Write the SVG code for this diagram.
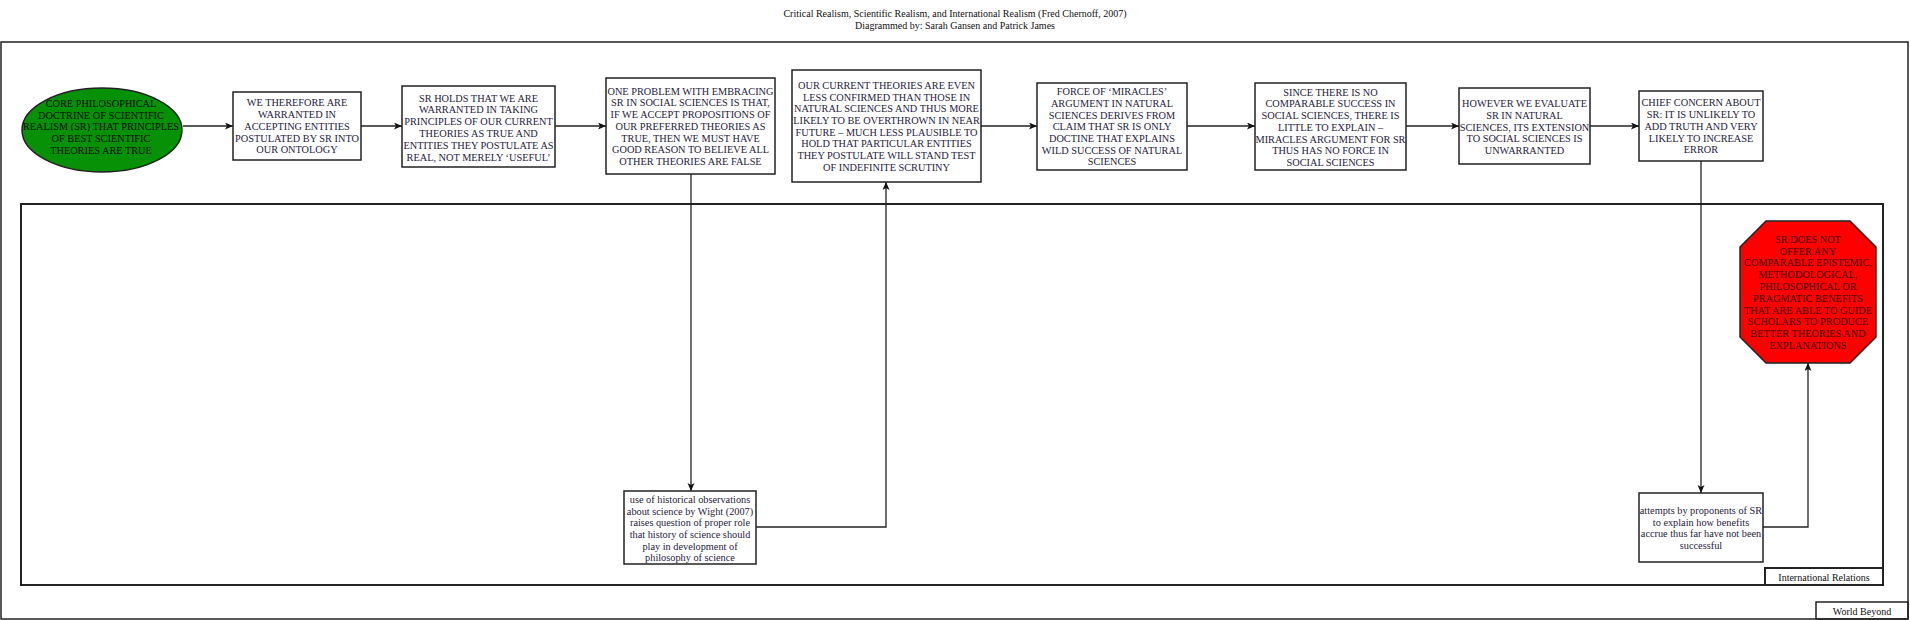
<svg xmlns="http://www.w3.org/2000/svg" width="1910" height="620" viewBox="0 0 1910 620">
<style>
  text { font-family: "Liberation Serif", "Times New Roman", serif; fill: #1f2240; text-anchor: middle; }
  .t { font-size: 10.3px; }
  .title { font-size: 10px; fill: #111; }
  .lbl { font-size: 10px; fill: #111; }
  .box { fill: #ffffff; stroke: #222; stroke-width: 1.5; }
  .frame { fill: none; stroke: #222; }
  .conn { fill: none; stroke: #222; stroke-width: 1.3; }
  .oct { font-size: 10.3px; fill: #3a0808; }
  .ell { font-size: 10.3px; fill: #0a0a0a; }
</style>
<defs>
  <marker id="arr" markerWidth="10" markerHeight="8" refX="8" refY="3.5" orient="auto" markerUnits="userSpaceOnUse">
    <path d="M0,0 L8,3.5 L0,7 L2,3.5 z" fill="#111"/>
  </marker>
</defs>
<rect width="1910" height="620" fill="#ffffff"/>
<g id="title">
  <text class="title" x="955" y="16.5">Critical Realism, Scientific Realism, and International Realism (Fred Chernoff, 2007)</text>
  <text class="title" x="955" y="28.5">Diagrammed by: Sarah Gansen and Patrick James</text>
</g>
<g id="world-beyond">
  <rect class="frame" x="1" y="42" width="1907" height="577" stroke-width="1.5"/>
  <rect class="frame" x="1816" y="602" width="92" height="17" stroke-width="1.5"/>
  <text class="lbl" x="1862" y="614.5">World Beyond</text>
</g>
<g id="international-relations">
  <rect class="frame" x="21" y="204" width="1862" height="381" stroke-width="2"/>
  <rect class="frame" x="1765" y="568" width="118" height="17" stroke-width="2"/>
  <text class="lbl" x="1824" y="580.5">International Relations</text>
</g>
<g id="connectors">
  <path class="conn" d="M183,126 L233,126" marker-end="url(#arr)"/>
  <path class="conn" d="M361,126 L402,126" marker-end="url(#arr)"/>
  <path class="conn" d="M555,126 L606,126" marker-end="url(#arr)"/>
  <path class="conn" d="M981,126 L1037,126" marker-end="url(#arr)"/>
  <path class="conn" d="M1187,126 L1255,126" marker-end="url(#arr)"/>
  <path class="conn" d="M1406,126 L1459,126" marker-end="url(#arr)"/>
  <path class="conn" d="M1590,126 L1639,126" marker-end="url(#arr)"/>
  <path class="conn" d="M691,174 L691,491" marker-end="url(#arr)"/>
  <path class="conn" d="M756,527 L886,527 L886,182" marker-end="url(#arr)"/>
  <path class="conn" d="M1701,161 L1701,493" marker-end="url(#arr)"/>
  <path class="conn" d="M1763,527 L1808,527 L1808,363" marker-end="url(#arr)"/>
</g>
<g id="n1">
  <ellipse cx="102" cy="130" rx="80" ry="42" fill="#079107" stroke="#222" stroke-width="1.5"/>
  <text class="ell" x="101" y="106.9"><tspan x="101">CORE PHILOSOPHICAL</tspan><tspan x="101" dy="11.7">DOCTRINE OF SCIENTIFIC</tspan><tspan x="101" dy="11.7">REALISM (SR) THAT PRINCIPLES</tspan><tspan x="101" dy="11.7">OF BEST SCIENTIFIC</tspan><tspan x="101" dy="11.7">THEORIES ARE TRUE</tspan></text>
</g>
<g id="n2">
  <rect class="box" x="233" y="92" width="128" height="68"/>
  <text class="t" x="297" y="106.4"><tspan x="297">WE THEREFORE ARE</tspan><tspan x="297" dy="11.7">WARRANTED IN</tspan><tspan x="297" dy="11.7">ACCEPTING ENTITIES</tspan><tspan x="297" dy="11.7">POSTULATED BY SR INTO</tspan><tspan x="297" dy="11.7">OUR ONTOLOGY</tspan></text>
</g>
<g id="n3">
  <rect class="box" x="402" y="86" width="153" height="81"/>
  <text class="t" x="478.5" y="101.5"><tspan x="478.5">SR HOLDS THAT WE ARE</tspan><tspan x="478.5" dy="11.8">WARRANTED IN TAKING</tspan><tspan x="478.5" dy="11.8">PRINCIPLES OF OUR CURRENT</tspan><tspan x="478.5" dy="11.8">THEORIES AS TRUE AND</tspan><tspan x="478.5" dy="11.8">ENTITIES THEY POSTULATE AS</tspan><tspan x="478.5" dy="11.8">REAL, NOT MERELY ‘USEFUL’</tspan></text>
</g>
<g id="n4">
  <rect class="box" x="606" y="78" width="169" height="96"/>
  <text class="t" x="690.5" y="94.7"><tspan x="690.5">ONE PROBLEM WITH EMBRACING</tspan><tspan x="690.5" dy="11.7">SR IN SOCIAL SCIENCES IS THAT,</tspan><tspan x="690.5" dy="11.7">IF WE ACCEPT PROPOSITIONS OF</tspan><tspan x="690.5" dy="11.7">OUR PREFERRED THEORIES AS</tspan><tspan x="690.5" dy="11.7">TRUE, THEN WE MUST HAVE</tspan><tspan x="690.5" dy="11.7">GOOD REASON TO BELIEVE ALL</tspan><tspan x="690.5" dy="11.7">OTHER THEORIES ARE FALSE</tspan></text>
</g>
<g id="n5">
  <rect class="box" x="792" y="70" width="189" height="112"/>
  <text class="t" x="886.5" y="88.85"><tspan x="886.5">OUR CURRENT THEORIES ARE EVEN</tspan><tspan x="886.5" dy="11.7">LESS CONFIRMED THAN THOSE IN</tspan><tspan x="886.5" dy="11.7">NATURAL SCIENCES AND THUS MORE</tspan><tspan x="886.5" dy="11.7">LIKELY TO BE OVERTHROWN IN NEAR</tspan><tspan x="886.5" dy="11.7">FUTURE – MUCH LESS PLAUSIBLE TO</tspan><tspan x="886.5" dy="11.7">HOLD THAT PARTICULAR ENTITIES</tspan><tspan x="886.5" dy="11.7">THEY POSTULATE WILL STAND TEST</tspan><tspan x="886.5" dy="11.7">OF INDEFINITE SCRUTINY</tspan></text>
</g>
<g id="n6">
  <rect class="box" x="1037" y="83" width="150" height="87"/>
  <text class="t" x="1112" y="95.2"><tspan x="1112">FORCE OF ‘MIRACLES’</tspan><tspan x="1112" dy="11.7">ARGUMENT IN NATURAL</tspan><tspan x="1112" dy="11.7">SCIENCES DERIVES FROM</tspan><tspan x="1112" dy="11.7">CLAIM THAT SR IS ONLY</tspan><tspan x="1112" dy="11.7">DOCTINE THAT EXPLAINS</tspan><tspan x="1112" dy="11.7">WILD SUCCESS OF NATURAL</tspan><tspan x="1112" dy="11.7">SCIENCES</tspan></text>
</g>
<g id="n7">
  <rect class="box" x="1255" y="83" width="151" height="87"/>
  <text class="t" x="1330.5" y="95.7"><tspan x="1330.5">SINCE THERE IS NO</tspan><tspan x="1330.5" dy="11.7">COMPARABLE SUCCESS IN</tspan><tspan x="1330.5" dy="11.7">SOCIAL SCIENCES, THERE IS</tspan><tspan x="1330.5" dy="11.7">LITTLE TO EXPLAIN –</tspan><tspan x="1330.5" dy="11.7">MIRACLES ARGUMENT FOR SR</tspan><tspan x="1330.5" dy="11.7">THUS HAS NO FORCE IN</tspan><tspan x="1330.5" dy="11.7">SOCIAL SCIENCES</tspan></text>
</g>
<g id="n8">
  <rect class="box" x="1459" y="88" width="131" height="76"/>
  <text class="t" x="1524.5" y="107.1"><tspan x="1524.5">HOWEVER WE EVALUATE</tspan><tspan x="1524.5" dy="11.7">SR IN NATURAL</tspan><tspan x="1524.5" dy="11.7">SCIENCES, ITS EXTENSION</tspan><tspan x="1524.5" dy="11.7">TO SOCIAL SCIENCES IS</tspan><tspan x="1524.5" dy="11.7">UNWARRANTED</tspan></text>
</g>
<g id="n9">
  <rect class="box" x="1639" y="91" width="124" height="70"/>
  <text class="t" x="1701" y="106.4"><tspan x="1701">CHIEF CONCERN ABOUT</tspan><tspan x="1701" dy="11.7">SR: IT IS UNLIKELY TO</tspan><tspan x="1701" dy="11.7">ADD TRUTH AND VERY</tspan><tspan x="1701" dy="11.7">LIKELY TO INCREASE</tspan><tspan x="1701" dy="11.7">ERROR</tspan></text>
</g>
<g id="n10">
  <rect class="box" x="624" y="491" width="132" height="73"/>
  <text class="t" x="690" y="502.85"><tspan x="690">use of historical observations</tspan><tspan x="690" dy="11.7">about science by Wight (2007)</tspan><tspan x="690" dy="11.7">raises question of proper role</tspan><tspan x="690" dy="11.7">that history of science should</tspan><tspan x="690" dy="11.7">play in development of</tspan><tspan x="690" dy="11.7">philosophy of science</tspan></text>
</g>
<g id="n11">
  <rect class="box" x="1639" y="493" width="124" height="69"/>
  <text class="t" x="1701" y="513.95"><tspan x="1701">attempts by proponents of SR</tspan><tspan x="1701" dy="11.7">to explain how benefits</tspan><tspan x="1701" dy="11.7">accrue thus far have not been</tspan><tspan x="1701" dy="11.7">successful</tspan></text>
</g>
<g id="n12">
  <polygon points="1766,221 1850,221 1876,247 1876,337 1850,363 1766,363 1740,337 1740,247" fill="#ff0000" stroke="#222" stroke-width="1.5"/>
  <text class="oct" x="1808" y="242.7"><tspan x="1808">SR DOES NOT</tspan><tspan x="1808" dy="11.8">OFFER ANY</tspan><tspan x="1808" dy="11.8">COMPARABLE EPISTEMIC,</tspan><tspan x="1808" dy="11.8">METHODOLOGICAL,</tspan><tspan x="1808" dy="11.8">PHILOSOPHICAL OR</tspan><tspan x="1808" dy="11.8">PRAGMATIC BENEFITS</tspan><tspan x="1808" dy="11.8">THAT ARE ABLE TO GUIDE</tspan><tspan x="1808" dy="11.8">SCHOLARS TO PRODUCE</tspan><tspan x="1808" dy="11.8">BETTER THEORIES AND</tspan><tspan x="1808" dy="11.8">EXPLANATIONS</tspan></text>
</g>
</svg>
